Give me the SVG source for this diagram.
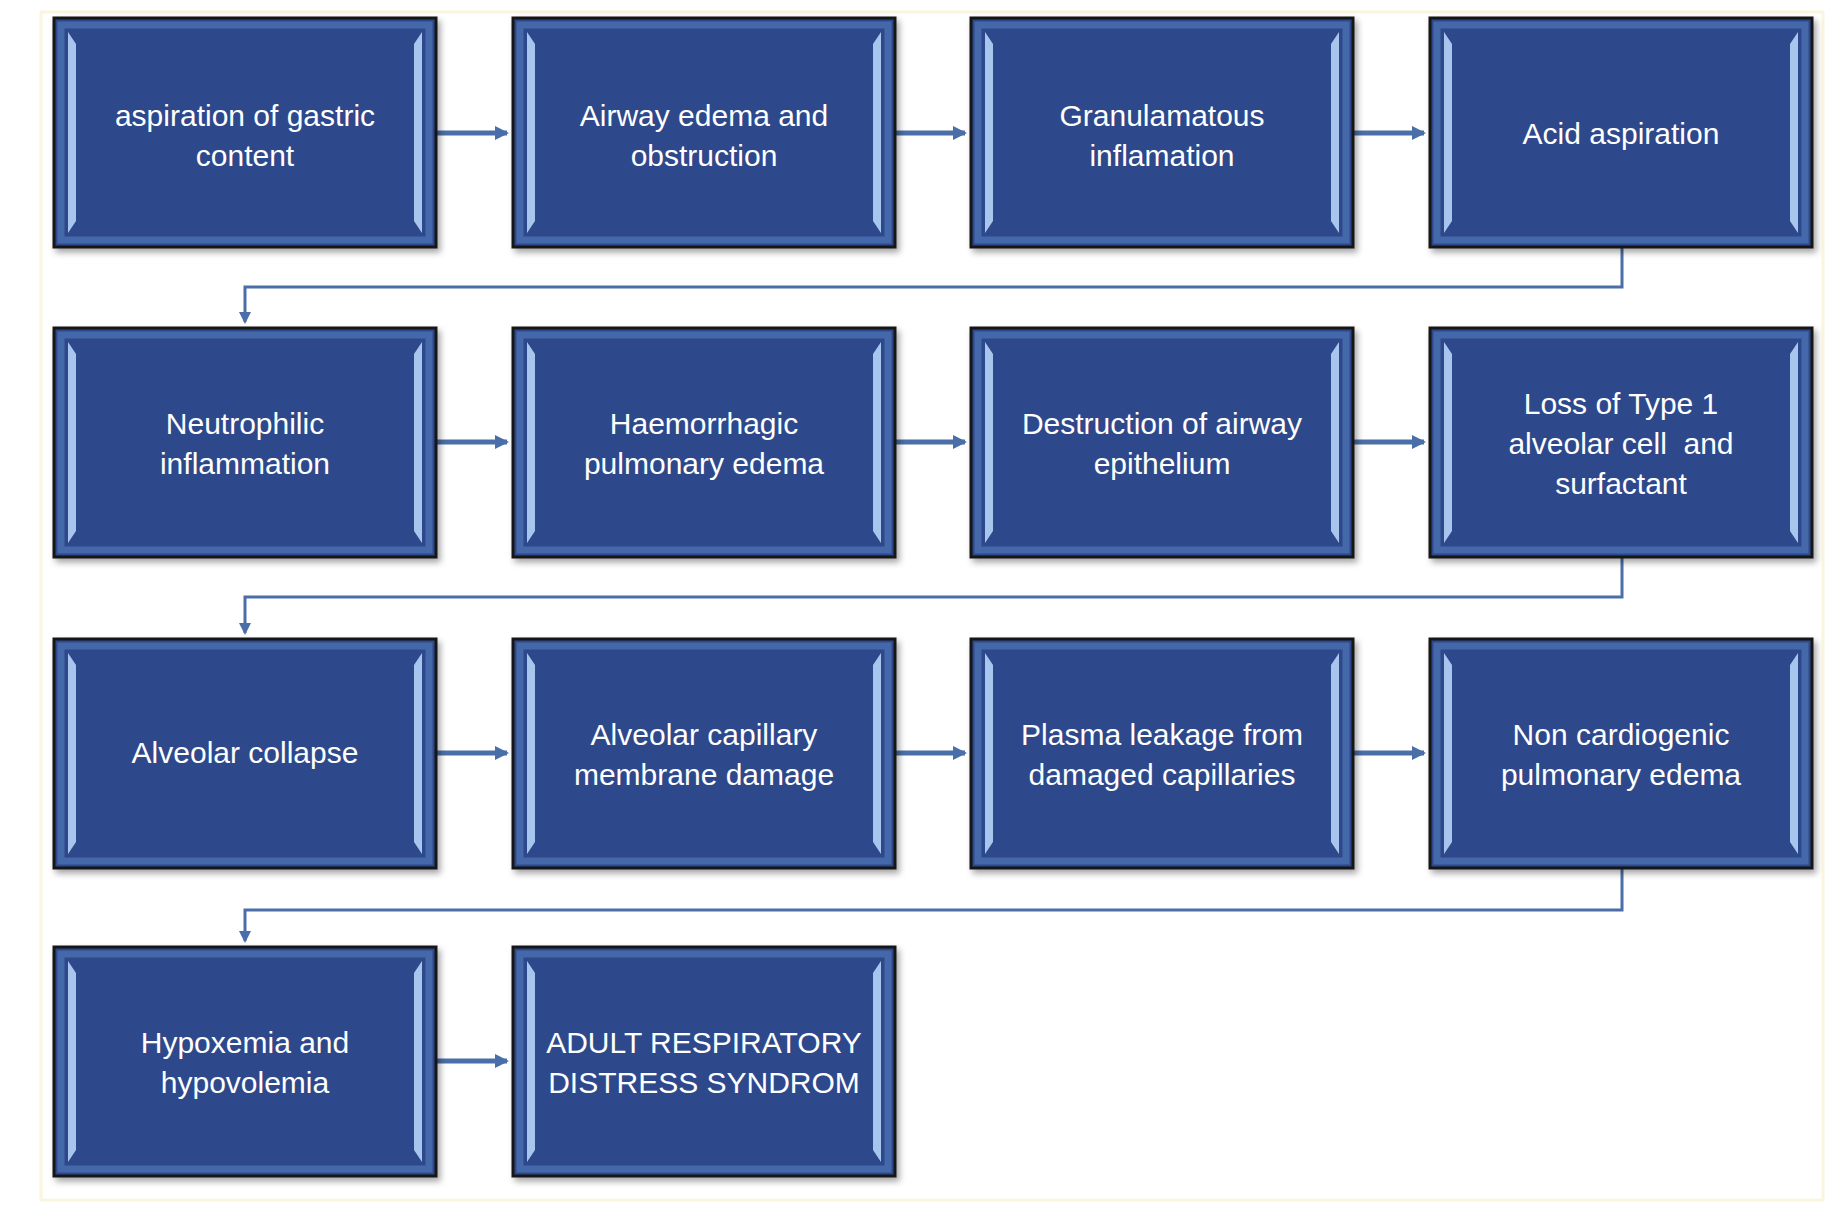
<svg xmlns="http://www.w3.org/2000/svg" width="1844" height="1218" viewBox="0 0 1844 1218">
<style>
.bx{fill:#2d4a8b;stroke:#151515;stroke-width:3}
.in{fill:none;stroke:#4468aa;stroke-width:7}
.st{fill:#a8c5ee}
.t{font-family:"Liberation Sans",Arial,sans-serif;font-size:30px;fill:#fff;text-anchor:middle}
.c{fill:none;stroke:#4a6fa8;stroke-width:3}
.h{fill:none;stroke:#4a6fa8;stroke-width:5}
</style>
<defs>
<marker id="ah" markerWidth="14" markerHeight="14" refX="12" refY="7" orient="auto" markerUnits="userSpaceOnUse">
<path d="M0,0 L14,7 L0,14 Z" fill="#4a6fa8"/>
</marker>
<marker id="av" markerWidth="12" markerHeight="12" refX="10" refY="6" orient="auto" markerUnits="userSpaceOnUse">
<path d="M0,0 L12,6 L0,12 Z" fill="#4a6fa8"/>
</marker>
<filter id="sh" x="-5%" y="-5%" width="115%" height="115%"><feDropShadow dx="3" dy="4" stdDeviation="3" flood-color="#000" flood-opacity="0.35"/></filter>
<g id="box">
<rect class="bx" x="0" y="0" width="382" height="229" filter="url(#sh)"/>
<rect class="in" x="7" y="7" width="368" height="215"/>
<polygon class="st" points="14,14 22,26 22,203 14,215"/>
<polygon class="st" points="368,14 360,26 360,203 368,215"/>
</g>
</defs>
<rect x="0" y="0" width="1844" height="1218" fill="#fff"/>
<rect x="41" y="12" width="1782" height="1188" fill="none" stroke="#faf5dc" stroke-width="3"/>
<g id="connectors">
<line class="h" x1="436" y1="133" x2="507" y2="133" marker-end="url(#ah)"/>
<line class="h" x1="895" y1="133" x2="965" y2="133" marker-end="url(#ah)"/>
<line class="h" x1="1352" y1="133" x2="1424" y2="133" marker-end="url(#ah)"/>
<polyline class="c" points="1622,247 1622,287 245,287 245,322" marker-end="url(#av)"/>
<line class="h" x1="436" y1="442" x2="507" y2="442" marker-end="url(#ah)"/>
<line class="h" x1="895" y1="442" x2="965" y2="442" marker-end="url(#ah)"/>
<line class="h" x1="1352" y1="442" x2="1424" y2="442" marker-end="url(#ah)"/>
<polyline class="c" points="1622,556 1622,597 245,597 245,633" marker-end="url(#av)"/>
<line class="h" x1="436" y1="753" x2="507" y2="753" marker-end="url(#ah)"/>
<line class="h" x1="895" y1="753" x2="965" y2="753" marker-end="url(#ah)"/>
<line class="h" x1="1352" y1="753" x2="1424" y2="753" marker-end="url(#ah)"/>
<polyline class="c" points="1622,867 1622,910 245,910 245,941" marker-end="url(#av)"/>
<line class="h" x1="436" y1="1061" x2="507" y2="1061" marker-end="url(#ah)"/>
</g>
<g id="n1"><use href="#box" x="54" y="18"/><text class="t" x="245" y="126">aspiration of gastric</text><text class="t" x="245" y="166">content</text></g>
<g id="n2"><use href="#box" x="513" y="18"/><text class="t" x="704" y="126">Airway edema and</text><text class="t" x="704" y="166">obstruction</text></g>
<g id="n3"><use href="#box" x="971" y="18"/><text class="t" x="1162" y="126">Granulamatous</text><text class="t" x="1162" y="166">inflamation</text></g>
<g id="n4"><use href="#box" x="1430" y="18"/><text class="t" x="1621" y="144">Acid aspiration</text></g>
<g id="n5"><use href="#box" x="54" y="328"/><text class="t" x="245" y="434">Neutrophilic</text><text class="t" x="245" y="474">inflammation</text></g>
<g id="n6"><use href="#box" x="513" y="328"/><text class="t" x="704" y="434">Haemorrhagic</text><text class="t" x="704" y="474">pulmonary edema</text></g>
<g id="n7"><use href="#box" x="971" y="328"/><text class="t" x="1162" y="434">Destruction of airway</text><text class="t" x="1162" y="474">epithelium</text></g>
<g id="n8"><use href="#box" x="1430" y="328"/><text class="t" x="1621" y="414">Loss of Type 1</text><text class="t" x="1621" y="454" xml:space="preserve">alveolar cell  and</text><text class="t" x="1621" y="494">surfactant</text></g>
<g id="n9"><use href="#box" x="54" y="639"/><text class="t" x="245" y="763">Alveolar collapse</text></g>
<g id="n10"><use href="#box" x="513" y="639"/><text class="t" x="704" y="745">Alveolar capillary</text><text class="t" x="704" y="785">membrane damage</text></g>
<g id="n11"><use href="#box" x="971" y="639"/><text class="t" x="1162" y="745">Plasma leakage from</text><text class="t" x="1162" y="785">damaged capillaries</text></g>
<g id="n12"><use href="#box" x="1430" y="639"/><text class="t" x="1621" y="745">Non cardiogenic</text><text class="t" x="1621" y="785">pulmonary edema</text></g>
<g id="n13"><use href="#box" x="54" y="947"/><text class="t" x="245" y="1053">Hypoxemia and</text><text class="t" x="245" y="1093">hypovolemia</text></g>
<g id="n14"><use href="#box" x="513" y="947"/><text class="t" x="704" y="1053" font-size="28">ADULT RESPIRATORY</text><text class="t" x="704" y="1093" font-size="28">DISTRESS SYNDROM</text></g>
</svg>
